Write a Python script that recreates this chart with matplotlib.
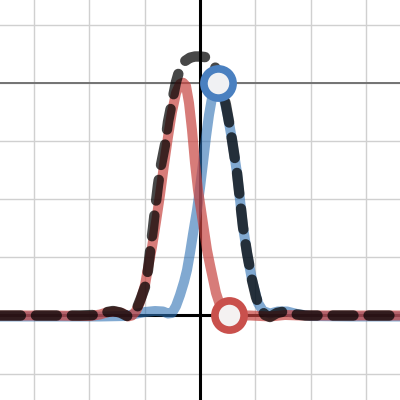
import matplotlib
matplotlib.use("Agg")
import matplotlib.pyplot as plt

# values (grid units)
blue_x = [-3.604, -2.523, -1.802, -1.351, -1.171, -0.991, -0.811, -0.667, -0.577, -0.505,
          -0.432, -0.360, -0.288, -0.234, -0.180, -0.126, -0.054, 0.0, 0.054, 0.108,
          0.162, 0.216, 0.270, 0.324, 0.378, 0.450, 0.505, 0.577, 0.667, 0.721,
          0.775, 0.847, 0.937, 1.045, 1.135, 1.261, 1.405, 1.568, 1.748, 1.982,
          2.703, 3.604]
blue_y = [-0.017, -0.017, -0.017, -0.009, 0.026, 0.060, 0.077, 0.069, 0.034, 0.043,
          0.163, 0.352, 0.576, 0.782, 1.074, 1.400, 1.813, 2.191, 2.620, 3.067,
          3.445, 3.737, 3.909, 4.0, 3.909, 3.652, 3.411, 3.015, 2.448, 1.985,
          1.521, 1.074, 0.610, 0.215, 0.077, 0.034, 0.069, 0.069, 0.026, -0.009,
          -0.017, -0.017]

red_x = [-3.604, -2.703, -1.982, -1.802, -1.658, -1.532, -1.405, -1.297, -1.225, -1.153,
         -1.081, -0.991, -0.937, -0.865, -0.793, -0.721, -0.649, -0.577, -0.505, -0.432,
         -0.360, -0.306, -0.252, -0.198, -0.144, -0.090, -0.036, 0.018, 0.072, 0.126,
         0.180, 0.234, 0.288, 0.360, 0.432, 0.523, 0.901, 1.261, 1.532, 1.802,
         2.703, 3.604]
red_y = [0.0, 0.0, -0.009, 0.017, 0.060, 0.069, 0.043, -0.017, 0.0, 0.077,
         0.232, 0.524, 0.816, 1.177, 1.607, 2.070, 2.586, 3.067, 3.497, 3.823,
         3.978, 4.0, 3.945, 3.651, 3.187, 2.620, 2.156, 1.813, 1.469, 1.126,
         0.869, 0.628, 0.387, 0.180, 0.060, 0.0, 0.0, -0.017, 0.009, 0.0,
         0.0, 0.0]

sum_x = [-3.604, -2.883, -2.162, -1.892, -1.712, -1.568, -1.441, -1.315, -1.225, -1.135,
         -1.063, -0.991, -0.937, -0.901, -0.847, -0.811, -0.757, -0.703, -0.631, -0.577,
         -0.505, -0.432, -0.360, -0.270, -0.180, -0.090, 0.0, 0.090, 0.180, 0.252,
         0.324, 0.396, 0.468, 0.523, 0.577, 0.667, 0.721, 0.775, 0.847, 0.937,
         1.009, 1.081, 1.171, 1.261, 1.387, 1.514, 1.622, 1.748, 1.892, 2.523,
         3.604]
sum_y = [0.0, 0.0, 0.0, 0.009, 0.052, 0.077, 0.052, -0.009, 0.017, 0.129,
         0.301, 0.490, 0.782, 1.091, 1.503, 1.813, 2.242, 2.586, 2.930, 3.325,
         3.668, 4.012, 4.253, 4.373, 4.430, 4.450, 4.450, 4.440, 4.390, 4.304,
         4.167, 3.909, 3.617, 3.325, 3.015, 2.448, 1.985, 1.521, 1.074, 0.610,
         0.318, 0.129, 0.009, -0.026, 0.043, 0.069, 0.052, 0.017, 0.0, 0.0,
         0.0]

blue_pt = (0.324, 4.0)
red_pt = (0.523, 0.0)
level = 4

fig = plt.figure(figsize=(4, 4), dpi=100)
ax = fig.add_axes([0, 0, 1, 1])
ax.set_xlim(-3.604, 3.604)
ax.set_ylim(-1.452, 5.421)

for gx in range(-3, 4):
    ax.axvline(gx, color="#d0d0d0", lw=1.0, zorder=0)
for gy in range(-1, 6):
    ax.axhline(gy, color="#d0d0d0", lw=1.0, zorder=0)
ax.axhline(level, color="#737373", lw=1.4, zorder=1)
ax.axhline(0, color="black", lw=2.2, zorder=1)
ax.axvline(0, color="black", lw=2.2, zorder=1)

ax.plot(blue_x, blue_y, color="#2d70b3", alpha=0.6, lw=7.2,
        solid_capstyle="round", solid_joinstyle="round", zorder=2)
ax.plot(red_x, red_y, color="#c74440", alpha=0.7, lw=7.2,
        solid_capstyle="round", solid_joinstyle="round", zorder=3)
ax.plot(sum_x, sum_y, color="black", alpha=0.72, lw=7.5, dashes=(2.0, 1.45),
        dash_capstyle="round", dash_joinstyle="round", zorder=4)

ax.plot(*blue_pt, "o", ms=21, mew=5.5, mec="#4a80c0", mfc="#f0f1f3", zorder=5)
ax.plot(*red_pt, "o", ms=21, mew=5.5, mec="#c9504c", mfc="#f4f1f1", zorder=5)

ax.set_xticks([])
ax.set_yticks([])
for s in ax.spines.values():
    s.set_visible(False)

fig.savefig("out.png", dpi=100)
